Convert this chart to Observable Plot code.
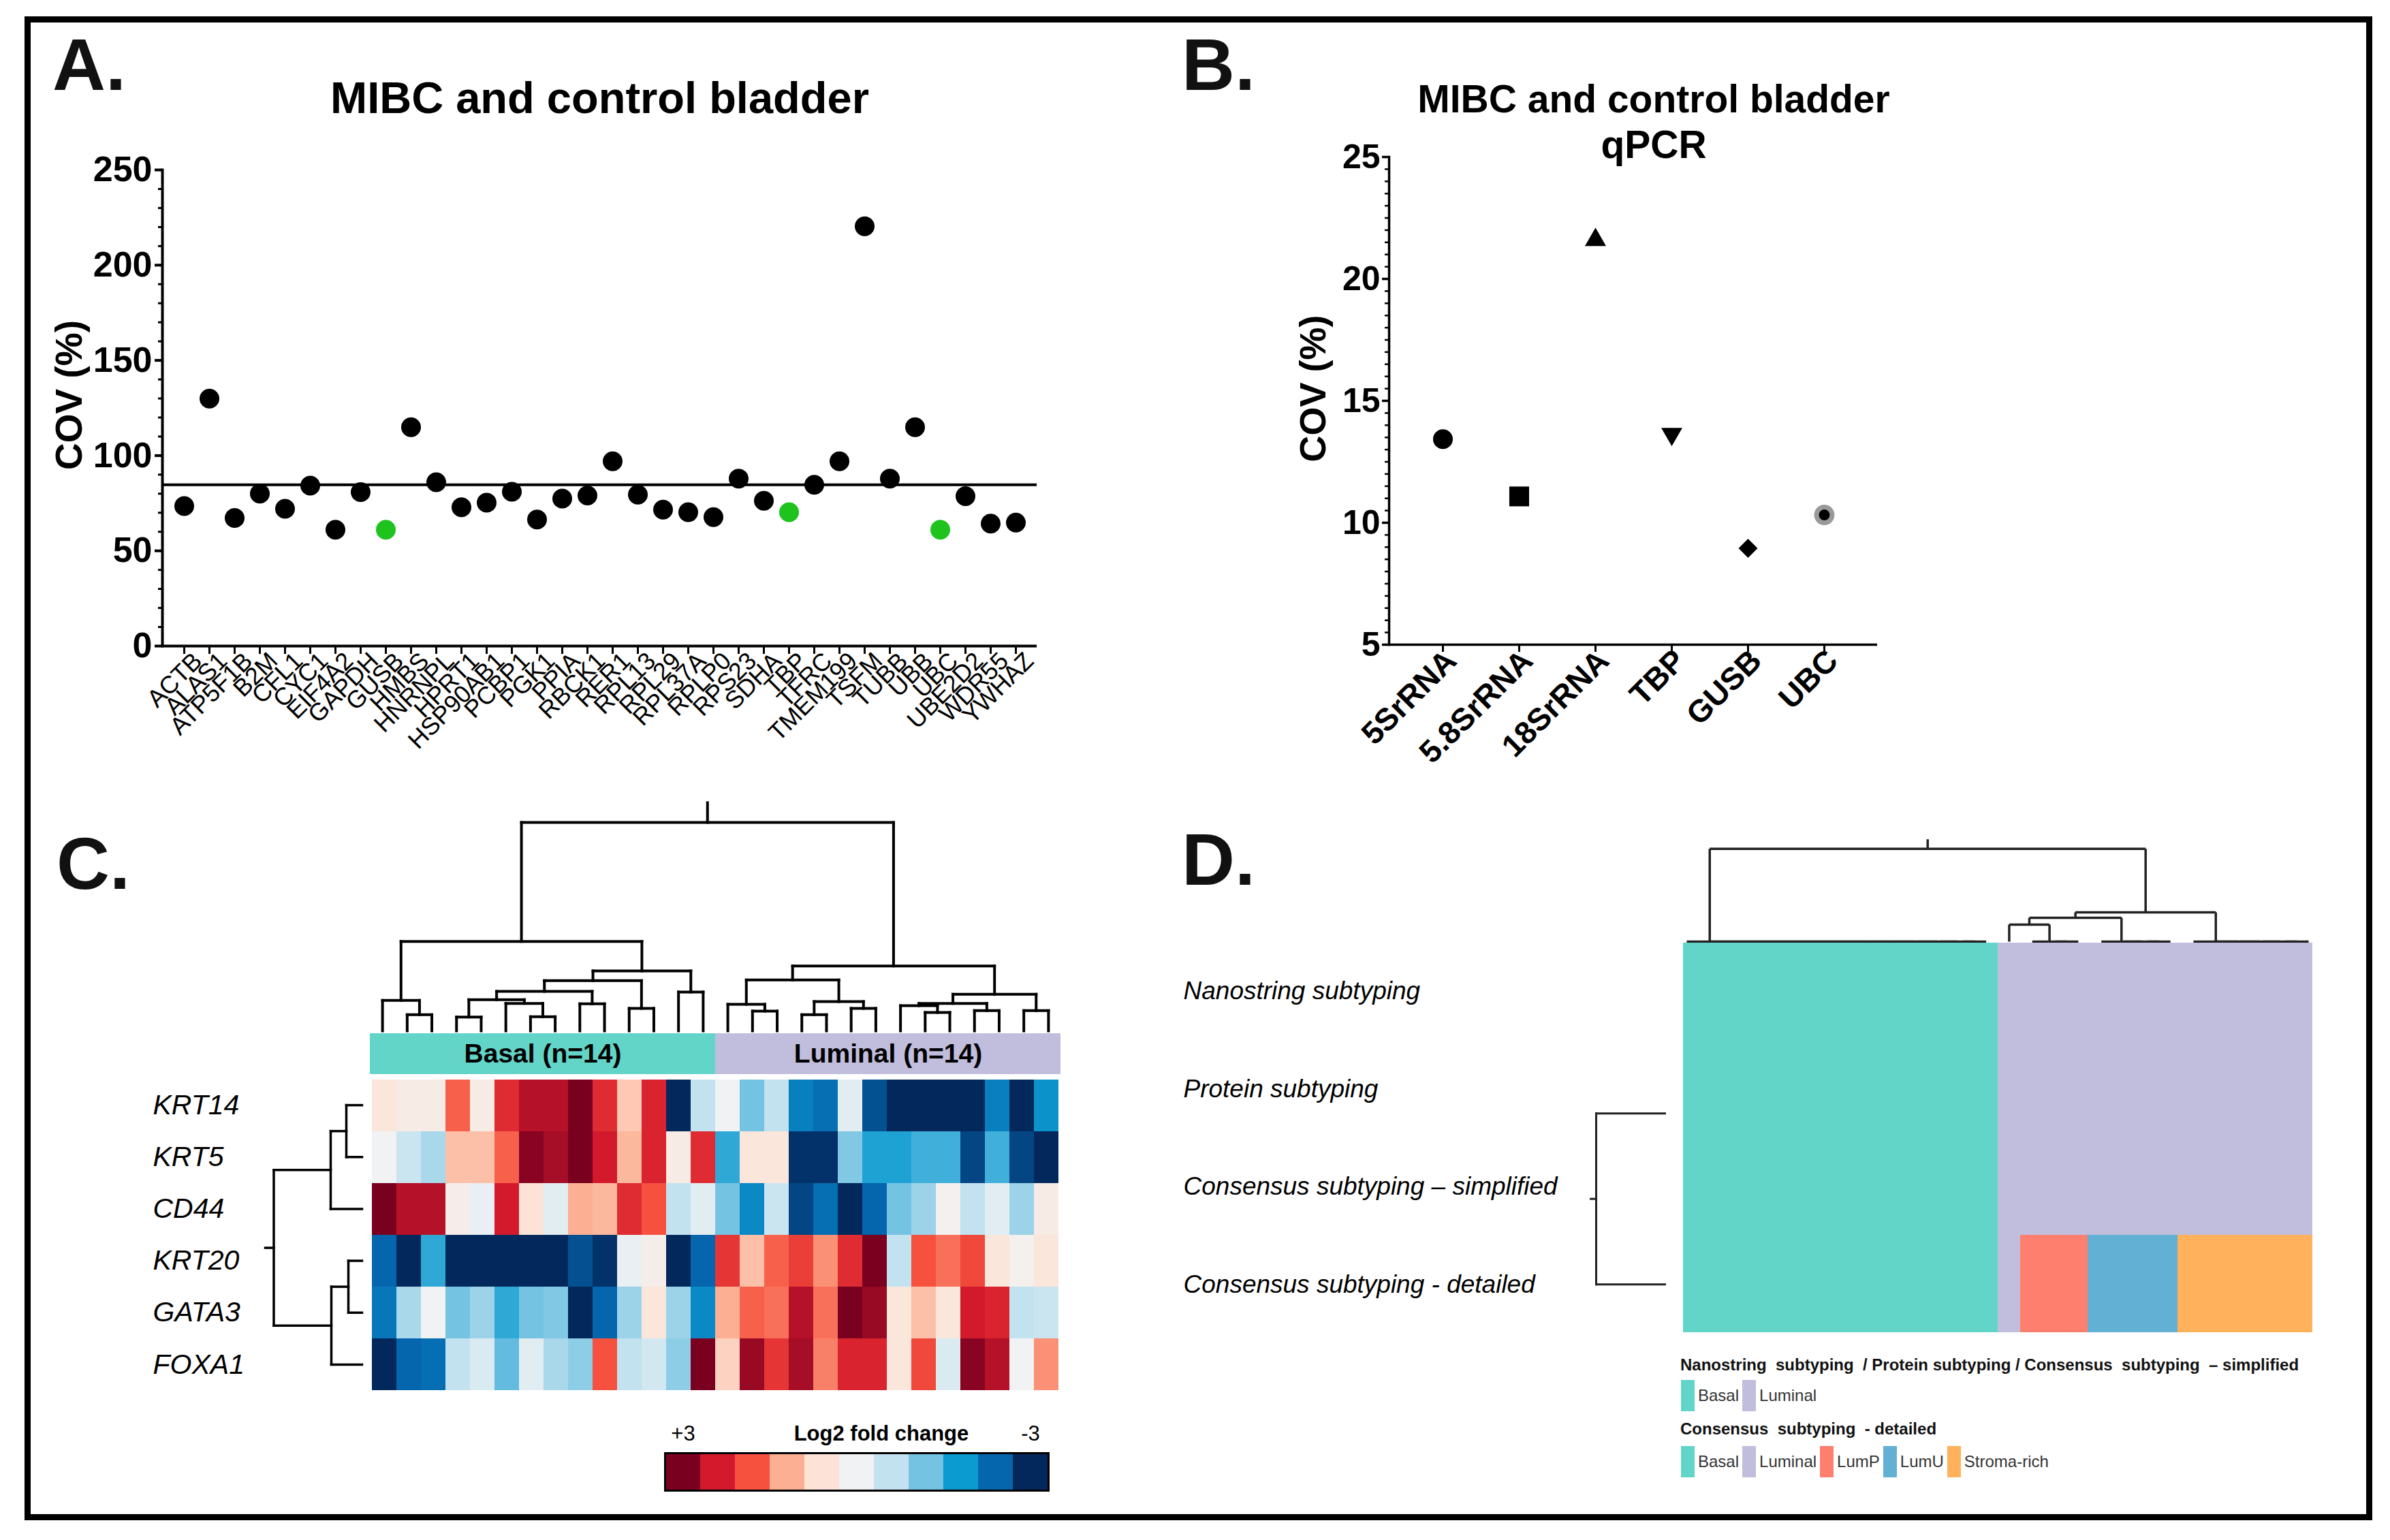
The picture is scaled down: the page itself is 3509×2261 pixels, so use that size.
<!DOCTYPE html>
<html><head><meta charset="utf-8">
<script src="https://cdn.jsdelivr.net/npm/d3@7"></script>
<script src="https://cdn.jsdelivr.net/npm/@observablehq/plot@0.6"></script>
<style>
body{margin:0;background:#fff;}
#root{position:relative;width:3509px;height:2261px;overflow:hidden;background:#fff;font-family:"Liberation Sans",Arial,Helvetica,sans-serif;}
.letter{position:absolute;font-weight:bold;font-size:108px;line-height:1;color:#111;}
.ltitle{position:absolute;font-weight:bold;font-size:24px;line-height:1;color:#111;white-space:nowrap;}
#root .dleg-swatches{font-size:24px;font-family:"Liberation Sans",Arial,sans-serif;color:#333;margin:0;min-height:0;}
#root .dleg-swatch{margin-right:5px;}
#root .dleg-swatch > svg{margin-right:5px;}
</style></head><body><div id="root"></div>
<script>
// ---------------- DATA ----------------
// Panel A
const genesA = ["ACTB","ALAS1","ATP5F1B","B2M","CFL1","CYC1","EIF4A2","GAPDH","GUSB","HMBS","HNRNPL","HPRT1","HSP90AB1","PCBP1","PGK1","PPIA","RBCK1","RER1","RPL13","RPL29","RPL37A","RPLP0","RPS23","SDHA","TBP","TFRC","TMEM199","TSFM","TUBB","UBB","UBC","UBE2D2","WDR55","YWHAZ"];
const covA = [73.5,129.9,67.2,80,72.1,84.2,61.1,80.8,61.1,114.9,86,72.9,75.3,81,66.4,77.4,79,97,79.5,71.6,70.3,67.7,87.9,76.3,70.3,84.7,97,220.4,87.9,114.9,61.1,78.7,64.3,64.8];
const highlightA = ["GUSB","TBP","UBC"];
const covLineA = 84.7;
const titleA = "MIBC and control bladder";
const yLabel = "COV (%)";
const yTicksA = [0,50,100,150,200,250];

// Panel B
const genesB = ["5SrRNA","5.8SrRNA","18SrRNA","TBP","GUSB","UBC"];
const covB = [13.43,11.08,21.6,13.64,8.95,10.32];
const titleB = "MIBC and control bladder\nqPCR";
const yTicksB = [5,10,15,20,25];

// Panel C
const genesC = ["KRT14","KRT5","CD44","KRT20","GATA3","FOXA1"];
const krt14 = [0.5,0.3,0.3,1.7,0.3,2.2,2.6,2.6,3,2.2,0.9,2.3,-3,-0.6, 0,-1.2,-0.6,-2.1,-2.3,-0.2,-2.6,-3,-3,-3,-3,-2.1,-3,-1.9];
const krt5  = [0,-0.5,-0.8,1.0,1.0,1.7,2.9,2.7,3,2.4,1.1,2.3,0.3,2.2, -1.6,0.5,0.5,-2.9,-2.9,-1.1,-1.7,-1.7,-1.5,-1.5,-2.7,-1.5,-2.7,-3];
const cd44  = [3,2.6,2.6,0.2,-0.1,2.4,0.6,-0.2,1.2,1.1,2.2,1.8,-0.6,-0.2, -1.2,-2,-0.5,-2.7,-2.3,-3,-2.4,-1.2,-0.9,0.1,-0.6,-0.2,-0.9,0.3];
const krt20 = [-2.4,-3,-1.6,-3,-3,-3,-3,-3,-2.6,-2.9,-0.1,0.2,-3,-2.4, 2.1,1.0,1.7,2.0,1.4,2.2,3,-0.6,1.8,1.6,1.9,0.5,0.1,0.5];
const gata3 = [-2.2,-0.8,0,-1.2,-0.9,-1.6,-1.2,-1.1,-3,-2.4,-0.9,0.5,-0.9,-2, 1.2,1.7,1.6,2.6,1.6,3,2.8,0.5,1.0,0.5,2.4,2.3,-0.6,-0.5];
const foxa1 = [-3,-2.4,-2.3,-0.6,-0.3,-1.3,-0.2,-0.8,-1.0,1.8,-0.6,-0.4,-1.0,3, 0.8,2.8,2.1,2.7,1.5,2.3,2.3,0.5,1.9,-0.3,2.9,2.6,0,1.4];
const groupNamesC = ["Basal (n=14)","Luminal (n=14)"];
const groupSizesC = [14,14];
// column dendrogram (hclust style: negative = leaf, positive = earlier merge; height)
const colMergesC = [
  [-2,-3,23.7],[-1,1,44.7],[-4,-5,20.3],[-7,-8,20.7],[-6,4,40.3],[3,5,45.7],[-9,-10,39.7],[6,7,58],
  [-11,-12,33],[8,9,73.7],[-13,-14,57],[10,11,88],[2,12,131.3],
  [-16,-17,29],[-15,14,39],[-18,-19,23.7],[-20,-21,33],[16,17,43],[15,18,74.7],
  [-23,-24,27],[-22,20,37],[-25,-26,29.7],[21,22,40.3],[-27,-28,29.7],[23,24,53.7],[19,25,95.3],
  [13,26,306]
];
const colStemC = 335;
const rowMergesC = [[-1,-2,23],[1,-3,46],[-4,-5,20],[3,-6,45],[2,4,129.5]];
const rowStemC = 142;
const legendStepsC = [3,2.4,1.8,1.2,0.6,0,-0.6,-1.2,-1.8,-2.4,-3];
const legendTitleC = "Log2 fold change";

// Panel D
const rowsD = ["Nanostring subtyping","Protein subtyping","Consensus subtyping \u2013 simplified","Consensus subtyping - detailed"];
const subtypesD = ["Basal","Luminal","LumP","LumU","Stroma-rich"];
const nanostringRuns = [["Basal",14],["Luminal",14]];
const proteinRuns = [["Basal",14],["Luminal",14]];
const simplifiedRuns = [["Basal",14],["Luminal",14]];
const detailedRuns = [["Basal",14],["Luminal",1],["LumP",3],["LumU",4],["Stroma-rich",6]];
const colMergesD = [
  [-13,-14,0],[-12,1,0],[-11,2,0],[-10,3,0],[-9,4,0],[-8,5,0],[-7,6,0],[-6,7,0],[-5,8,0],[-4,9,0],[-3,10,0],[-2,11,0],[-1,12,0],
  [-17,-18,0],[-16,14,0],[-15,15,25],
  [-21,-22,0],[-20,17,0],[-19,18,0],[16,19,35],
  [-27,-28,0],[-26,21,0],[-25,22,0],[-24,23,0],[-23,24,0],[20,25,43],
  [13,26,136]
];
const colStemD = 150;
const rowMergesD = [[-1,-2,0],[1,-3,0],[2,-4,101]];
const rowStemD = 109;
const legendTitleD1 = "Nanostring  subtyping  / Protein subtyping / Consensus  subtyping  \u2013 simplified";
const legendTitleD2 = "Consensus  subtyping  - detailed";
const legendItemsD1 = ["Basal","Luminal"];
const legendItemsD2 = ["Basal","Luminal","LumP","LumU","Stroma-rich"];

// ---------------- STYLE ----------------
const FONT = '"Liberation Sans", Arial, Helvetica, sans-serif';
const GREEN = "#1ec31e";
const heatSteps = [-3,-2.4,-1.8,-1.2,-0.6,0,0.6,1.2,1.8,2.4,3];
const heatColors = ["#03285c","#0565ad","#0c9bd0","#74c3e2","#c3e2ef","#f1f2f3","#fde3d7","#fcaf92","#f6513e","#d31a2c","#7a0020"];
const colorC = {type:"linear", domain: heatSteps, range: heatColors};
const subtypeColors = ["#62d5c8","#c1bddd","#fe7f6e","#62b0d4","#ffb25b"];
const groupColorsC = ["#62d5c8","#c1bddd"];

const root = document.getElementById("root");
function addNode(node, left, top){ node.style.position="absolute"; node.style.left=left+"px"; node.style.top=top+"px"; root.appendChild(node); return node; }
function addDiv(cls, text, left, top){ const d=document.createElement("div"); d.className=cls; d.textContent=text; return addNode(d,left,top); }
const baseStyle = {fontFamily: FONT, background: "none", overflow: "visible", color: "black"};

// dendrogram segments from hclust-style merges
function dendro(merges, stemTop, skipZero){
  const pos=[], hgt=[], segs=[];
  const P = r => r < 0 ? -r - 0.5 : pos[r-1];
  const H = r => r < 0 ? 0 : hgt[r-1];
  merges.forEach(([a,b,h],i)=>{
    const pa=P(a), pb=P(b), ha=H(a), hb=H(b);
    pos[i]=(pa+pb)/2; hgt[i]=h;
    if (skipZero && h===0) return;
    segs.push({p1:pa,h1:h,p2:pb,h2:h});
    segs.push({p1:pa,h1:ha,p2:pa,h2:h});
    segs.push({p1:pb,h1:hb,p2:pb,h2:h});
  });
  const n=merges.length-1;
  segs.push({p1:pos[n],h1:hgt[n],p2:pos[n],h2:stemTop});
  return segs;
}
const expandRuns = runs => runs.flatMap(([t,n]) => Array(n).fill(t));

// ---------------- PANEL A ----------------
const dataA = genesA.map((g,i)=>({gene:g, cov:covA[i], ref: highlightA.includes(g)}));
const plotA = Plot.plot({
  width:1600, height:1150, marginLeft:238, marginRight:78, marginTop:249, marginBottom:202,
  style: baseStyle,
  x:{type:"point", domain:genesA, padding:0.7, label:null},
  y:{domain:[0,250], label:null},
  marks:[
    Plot.axisY({ticks:d3.range(0,251,10), tickSize:6, tickFormat:()=>"", strokeWidth:3, label:null}),
    Plot.axisY({ticks:yTicksA, tickSize:11, tickPadding:4, fontSize:52, fontWeight:"bold", strokeWidth:4, label:null}),
    Plot.axisX({tickSize:12, strokeWidth:3, tickFormat:()=>"", label:null}),
    Plot.axisX({tickSize:0, tickPadding:16, tickRotate:-45, fontSize:36, dx:20, label:null}),
    Plot.frame({anchor:"left", strokeWidth:4}),
    Plot.ruleY([0], {strokeWidth:4}),
    Plot.ruleY([covLineA], {strokeWidth:4}),
    Plot.dot(dataA.filter(d=>!d.ref), {x:"gene", y:"cov", r:14.5, fill:"black"}),
    Plot.dot(dataA.filter(d=>d.ref), {x:"gene", y:"cov", r:14.5, fill:GREEN}),
    Plot.text([titleA], {frameAnchor:"top", dy:-84, lineAnchor:"bottom", fontSize:65, fontWeight:"bold"}),
    Plot.text([yLabel], {frameAnchor:"left", textAnchor:"middle", rotate:-90, dx:-136, dy:-19, fontSize:55, fontWeight:"bold"})
  ]
});
addNode(plotA, 0, 0);

// ---------------- PANEL B ----------------
const triangleDown = { draw(context, size){ const y = -Math.sqrt(size/(Math.sqrt(3)*3)); context.moveTo(0,-y*2); context.lineTo(Math.sqrt(3)*y, y); context.lineTo(-Math.sqrt(3)*y, y); context.closePath(); } };
const markerB = [
  {symbol:"circle", r:14.5},
  {symbol:"square", r:16.4},
  {symbol:"triangle", r:11.5},
  {symbol:triangleDown, r:11.5},
  {symbol:"diamond2", r:12.6},
  {symbol:"circle", r:11.5, stroke:"#9a9a9a", strokeWidth:7}
];
const dataB = genesB.map((g,i)=>({gene:g, cov:covB[i]}));
const plotB = Plot.plot({
  width:1100, height:1150, marginLeft:339, marginRight:44, marginTop:230, marginBottom:204,
  style: baseStyle,
  x:{type:"point", domain:genesB, padding:0.68, label:null},
  y:{domain:[5,25], label:null},
  marks:[
    Plot.axisY({ticks:d3.range(5,25.01,0.5), tickSize:6, tickFormat:()=>"", strokeWidth:2.5, label:null}),
    Plot.axisY({ticks:yTicksB, tickSize:10, tickPadding:3, fontSize:50, fontWeight:"bold", strokeWidth:3.5, label:null}),
    Plot.axisX({tickSize:11, strokeWidth:3, tickFormat:()=>"", label:null}),
    Plot.axisX({tickSize:0, tickPadding:16, tickRotate:-45, fontSize:46, fontWeight:"bold", dx:12, label:null}),
    Plot.frame({anchor:"left", strokeWidth:3.5}),
    Plot.ruleY([5], {strokeWidth:3.5}),
    ...genesB.map((g,i)=>Plot.dot(dataB.filter(d=>d.gene===g), {x:"gene", y:"cov", fill:"black", ...markerB[i]})),
    Plot.text([titleB], {frameAnchor:"top", dx:30, dy:1, lineAnchor:"bottom", lineHeight:1.16, fontSize:57, fontWeight:"bold"}),
    Plot.text([yLabel], {frameAnchor:"left", textAnchor:"middle", rotate:-90, dx:-111, dy:-18, fontSize:54, fontWeight:"bold"})
  ]
});
addNode(plotB, 1700, 0);

// ---------------- PANEL C ----------------
const heatRows = {KRT14:krt14, KRT5:krt5, CD44:cd44, KRT20:krt20, GATA3:gata3, FOXA1:foxa1};
const samplesC = d3.range(1, 29);
const heatData = genesC.flatMap(g => heatRows[g].map((v,i)=>({gene:g, sample:i+1, value:v})));

// top dendrogram
const colSegsC = dendro(colMergesC, colStemC, false);
const plotCtop = Plot.plot({
  width:1450, height:370, margin:0, style: baseStyle,
  x:{domain:[0,28], range:[393,1407], axis:null},
  y:{domain:[0,335], range:[363,28], axis:null},
  marks:[ Plot.link(colSegsC, {x1:"p1", y1:"h1", x2:"p2", y2:"h2", stroke:"black", strokeWidth:4, strokeLinecap:"square"}) ]
});
addNode(plotCtop, 150, 1150);

// group bar
let acc = 0;
const groupsC = groupNamesC.map((name,i)=>{ const g={name, start:acc, end:acc+groupSizesC[i]}; acc+=groupSizesC[i]; return g; });
const plotCbar = Plot.plot({
  width:1450, height:60, margin:0, style: baseStyle,
  x:{domain:[0,28], range:[393,1407], axis:null},
  color:{domain:groupNamesC, range:groupColorsC},
  marks:[
    Plot.rect(groupsC, {x1:"start", x2:"end", fill:"name"}),
    Plot.text(groupsC, {x:d=>(d.start+d.end)/2, frameAnchor:"middle", text:"name", fontSize:39, fontWeight:"bold", fill:"black"})
  ]
});
addNode(plotCbar, 150, 1517);

// heatmap
const plotCheat = Plot.plot({
  width:1450, height:457, margin:0, style: baseStyle,
  x:{type:"band", domain:samplesC, range:[393,1407], padding:0, axis:null},
  y:{type:"band", domain:genesC, range:[0,457], padding:0, axis:null},
  color: colorC,
  marks:[ Plot.cell(heatData, {x:"sample", y:"gene", fill:"value", inset:0, shapeRendering:"crispEdges"}) ]
});
addNode(plotCheat, 150, 1584);

// row dendrogram + labels
const rowSegsC = dendro(rowMergesC, rowStemC, false);
const plotCrow = Plot.plot({
  width:395, height:457, marginLeft:74, marginRight:0, marginTop:0, marginBottom:0, style: baseStyle,
  x:{domain:[rowStemC,0], range:[239,381], axis:null},
  y:{domain:[0,6], range:[0,457], axis:null},
  marks:[
    Plot.link(rowSegsC, {x1:"h1", y1:"p1", x2:"h2", y2:"p2", stroke:"black", strokeWidth:3.5, strokeLinecap:"square"}),
    Plot.text(genesC, {y:(d,i)=>i+0.5, frameAnchor:"left", textAnchor:"start", fontSize:41, fontStyle:"italic"})
  ]
});
addNode(plotCrow, 150, 1584);

// colour legend
const plotCleg = Plot.plot({
  width:600, height:115, marginLeft:16, marginRight:21, marginTop:53, marginBottom:7, style: baseStyle,
  x:{type:"band", domain:d3.range(legendStepsC.length), padding:0, axis:null},
  color: colorC,
  marks:[
    Plot.cell(legendStepsC, {x:(d,i)=>i, fill:d=>d, inset:0, shapeRendering:"crispEdges"}),
    Plot.frame({stroke:"black", strokeWidth:3}),
    Plot.text(["+3"], {x:0, frameAnchor:"top", dy:-19, lineAnchor:"bottom", fontSize:31}),
    Plot.text([legendTitleC], {x:6, dx:-15, frameAnchor:"top", dy:-19, lineAnchor:"bottom", fontSize:31, fontWeight:"bold"}),
    Plot.text(["-3"], {x:legendStepsC.length-1, frameAnchor:"top", dy:-19, lineAnchor:"bottom", fontSize:31})
  ]
});
addNode(plotCleg, 960, 2080);

// ---------------- PANEL D ----------------
const samplesD = d3.range(1, 29);
const rowTypesD = [nanostringRuns, proteinRuns, simplifiedRuns, detailedRuns].map(expandRuns);
const cellsD = rowsD.flatMap((r,ri)=>rowTypesD[ri].map((t,i)=>({row:r, sample:i+1, type:t})));

const colSegsD = dendro(colMergesD, colStemD, false);
const plotDtop = Plot.plot({
  width:1000, height:170, margin:0, style: baseStyle,
  x:{domain:[0,28], range:[19,966], axis:null},
  y:{domain:[0,colStemD], range:[162,11.7], axis:null},
  marks:[ Plot.link(colSegsD, {x1:"p1", y1:"h1", x2:"p2", y2:"h2", stroke:"#222", strokeWidth:3.5, strokeLinecap:"butt"}) ]
});
addNode(plotDtop, 2440, 1220);

const plotDheat = Plot.plot({
  width:1000, height:575, margin:0, style: baseStyle,
  x:{type:"band", domain:samplesD, range:[19,966], padding:0, axis:null},
  y:{type:"band", domain:rowsD, range:[0,574], padding:0, axis:null},
  color:{domain:subtypesD, range:subtypeColors},
  marks:[ Plot.cell(cellsD, {x:"sample", y:"row", fill:"type", inset:0, shapeRendering:"crispEdges"}) ]
});
addNode(plotDheat, 2440, 1383);

const rowSegsD = dendro(rowMergesD, rowStemD, true);
const plotDrow = Plot.plot({
  width:760, height:575, marginLeft:37, marginRight:0, marginTop:0, marginBottom:0, style: baseStyle,
  x:{domain:[rowStemD,0], range:[635,744], axis:null},
  y:{domain:[0,4], range:[0,574], axis:null},
  marks:[
    Plot.link(rowSegsD, {x1:"h1", y1:"p1", x2:"h2", y2:"p2", stroke:"#222", strokeWidth:3, strokeLinecap:"square"}),
    Plot.text(rowsD, {y:(d,i)=>i+0.5, frameAnchor:"left", textAnchor:"start", fontSize:37, fontStyle:"italic"})
  ]
});
addNode(plotDrow, 1700, 1383);

// D legends
const colorOf = name => subtypeColors[subtypesD.indexOf(name)];
addDiv("ltitle", legendTitleD1, 2467, 1992).style.whiteSpace = "pre";
const lg1 = Plot.legend({legend:"swatches", className:"dleg", swatchWidth:20, swatchHeight:46, color:{type:"categorical", domain:legendItemsD1, range:legendItemsD1.map(colorOf)}});
addNode(lg1, 2468, 2026);
addDiv("ltitle", legendTitleD2, 2467, 2086).style.whiteSpace = "pre";
const lg2 = Plot.legend({legend:"swatches", className:"dleg", swatchWidth:20, swatchHeight:46, color:{type:"categorical", domain:legendItemsD2, range:legendItemsD2.map(colorOf)}});
addNode(lg2, 2468, 2123);

// ---------------- PANEL LETTERS & BORDER ----------------
addDiv("letter", "A.", 77, 41);
addDiv("letter", "B.", 1735, 41);
addDiv("letter", "C.", 83, 1214);
addDiv("letter", "D.", 1735, 1208);
const border = document.createElement("div");
border.style.cssText = "box-sizing:border-box;width:3447px;height:2208px;border:9px solid #000;pointer-events:none;";
addNode(border, 36, 24);
</script>
</body></html>
